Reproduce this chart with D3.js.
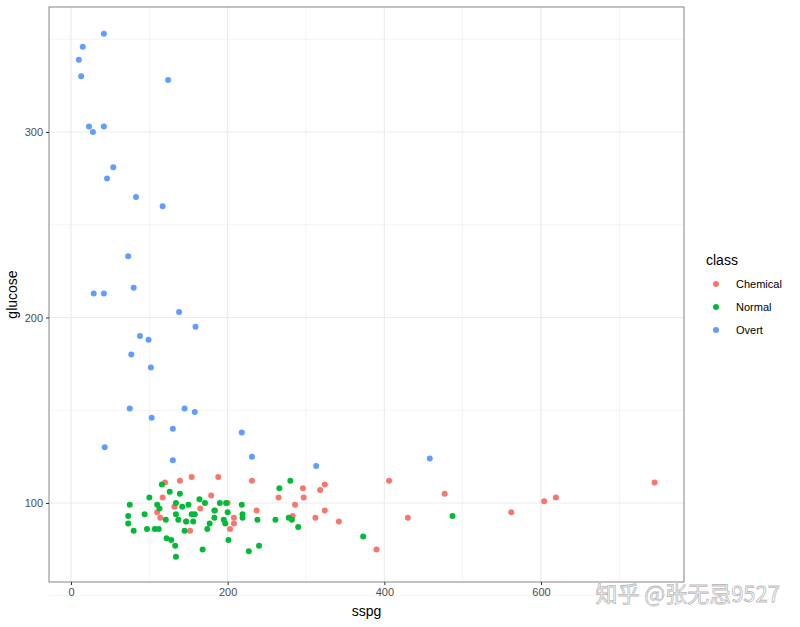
<!DOCTYPE html><html><head><meta charset="utf-8"><script src="https://cdn.jsdelivr.net/npm/d3@7"></script>
<style>body{margin:0;background:#fff}text{font-family:"Liberation Sans",Arial,sans-serif}</style></head><body><svg id="c" width="800" height="627"></svg><script>
const classes=["Chemical","Normal","Overt"];
const colors=["#F8766D","#00BA38","#619CFF"];
const xTicks=[0,200,400,600], yTicks=[100,200,300];
const overt=[[42,353],[15,346],[10,339],[13,330],[124,328],[23,303],[42,303],[28,300],[54,281],[46,275],[83,265],[117,260],[73,233],[29,213],[42,213],[80,216],[138,203],[159,195],[88,190],[99,188],[77,180],[102,173],[75,151],[145,151],[158,149],[103,146],[130,140],[218,138],[43,130],[231,125],[130,123],[313,120],[458,124]];
const chemical=[[406,112],[477,105],[430,92],[296,108],[324,110],[318,107],[297,103],[286,99],[265,103],[231,112],[188,114],[154,114],[139,112],[120,111],[117,103],[179,104],[200,100],[324,96],[312,92],[342,90],[390,75],[562,95],[604,101],[619,103],[745,111],[184,96],[165,97],[208,92],[208,89],[147,90],[114,92],[132,98],[110,95],[237,96],[203,86],[152,85],[283,93]];
const normal=[[75,99],[73,93],[73,89],[94,94],[80,85],[107,86],[112,86],[116,110],[110,99],[113,97],[121,91],[122,81],[128,80],[133,77],[134,71],[126,106],[139,105],[134,94],[137,91],[142,98],[134,100],[145,85],[150,99],[156,90],[158,94],[164,102],[168,75],[171,100],[174,86],[177,89],[183,96],[183,92],[190,100],[195,91],[198,100],[200,95],[201,80],[197,89],[218,99],[219,94],[219,92],[227,74],[238,91],[240,77],[261,91],[266,108],[280,112],[278,92],[282,91],[290,87],[100,103],[97,86],[154,94],[373,82],[487,93],[147,90]];
const svg=d3.select("#c");
const L=49,R=684,T=7,B=582;
const x=d3.scale=d3.scaleLinear().domain([0,600]).range([71,541]);
const y=d3.scaleLinear().domain([100,300]).range([503,132]);
const xd=[x.invert(L),x.invert(R)], yd=[y.invert(B),y.invert(T)];
x.domain(xd).range([L,R]); y.domain(yd).range([B,T]);
svg.append("rect").attr("x",L).attr("y",T).attr("width",R-L).attr("height",B-T).attr("fill","#fff");
const g=svg.append("g");
[100,300,500,700].forEach(v=>g.append("line").attr("x1",x(v)).attr("x2",x(v)).attr("y1",T).attr("y2",B).attr("stroke","#ebebeb").attr("stroke-width",0.6));
[50,150,250,350].forEach(v=>g.append("line").attr("y1",y(v)).attr("y2",y(v)).attr("x1",L).attr("x2",R).attr("stroke","#ebebeb").attr("stroke-width",0.6));
xTicks.forEach(v=>g.append("line").attr("x1",x(v)).attr("x2",x(v)).attr("y1",T).attr("y2",B).attr("stroke","#ebebeb").attr("stroke-width",1.2));
yTicks.forEach(v=>g.append("line").attr("y1",y(v)).attr("y2",y(v)).attr("x1",L).attr("x2",R).attr("stroke","#ebebeb").attr("stroke-width",1.2));
const xa=svg.append("g").attr("transform",`translate(0,${B})`).call(d3.axisBottom(x).tickValues(xTicks).tickSize(3).tickPadding(3));
const ya=svg.append("g").attr("transform",`translate(${L},0)`).call(d3.axisLeft(y).tickValues(yTicks).tickSize(3).tickPadding(3));
[xa,ya].forEach(a=>{a.select(".domain").remove();a.selectAll("line").attr("stroke","#333");a.selectAll("text").attr("fill","#4d4d4d").style("font-size","11px");});
[[chemical,0],[normal,1],[overt,2]].forEach(([d,i])=>svg.append("g").selectAll("circle").data(d).join("circle").attr("cx",p=>x(p[0])).attr("cy",p=>y(p[1])).attr("r",3).attr("fill",colors[i]));
svg.append("rect").attr("x",L).attr("y",T).attr("width",R-L).attr("height",B-T).attr("fill","none").attr("stroke","#333").attr("stroke-width",0.6);
svg.append("text").attr("x",(L+R)/2).attr("y",616).attr("text-anchor","middle").style("font-size","14px").text("sspg");
svg.append("text").attr("transform",`translate(17,${(T+B)/2}) rotate(-90)`).attr("text-anchor","middle").style("font-size","14px").text("glucose");
svg.append("text").attr("x",706).attr("y",265).style("font-size","14px").text("class");
classes.forEach((c,i)=>{svg.append("circle").attr("cx",716).attr("cy",284+i*23).attr("r",3).attr("fill",colors[i]);
svg.append("text").attr("x",736).attr("y",288+i*23).style("font-size","11px").text(c);});
svg.append("text").attr("x",780).attr("y",602).attr("text-anchor","end").style("font-size","22px").attr("fill","#fff").attr("stroke","#bbb").attr("stroke-width",0.8).style("font-family","Noto Sans CJK SC").text("知乎 @张无忌9527");
</script></body></html>
